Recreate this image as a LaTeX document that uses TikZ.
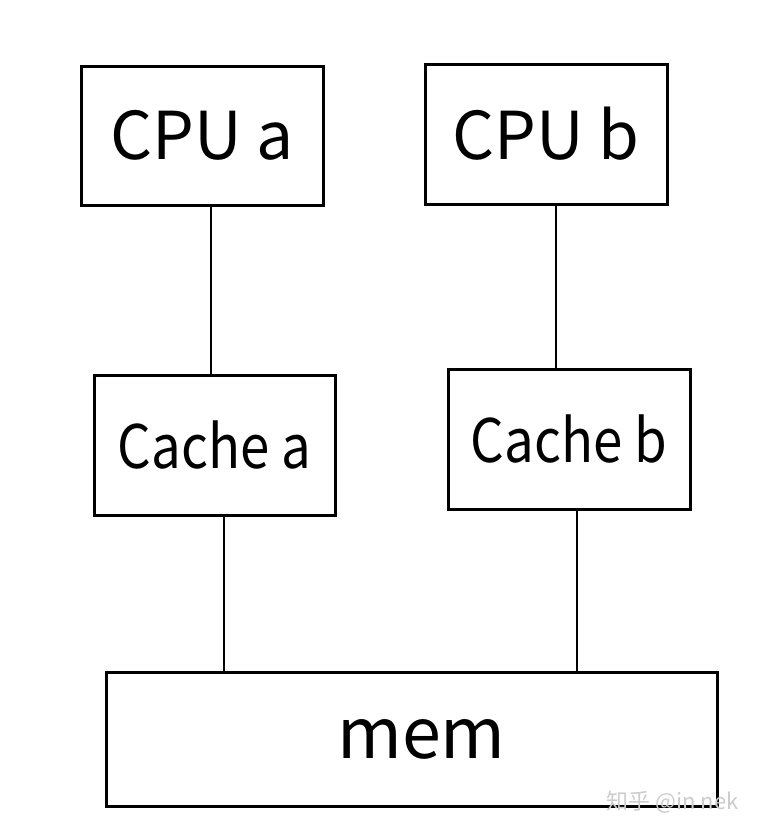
\documentclass[tikz,border=0pt]{standalone}
\usepackage{fontspec}
\setmainfont{Noto Sans CJK SC}
\begin{document}
\begin{tikzpicture}[x=1pt, y=-1pt,
    box/.style={draw, line width=3pt, inner sep=0pt},
    link/.style={line width=2pt}]
  \useasboundingbox (0,0) rectangle (760,836);
  % processors
  \node[box, minimum width=242pt, minimum height=139pt, font=\fontsize{66}{70}\selectfont] (cpua) at (202,135.5) {CPU a};
  \node[box, minimum width=242pt, minimum height=140pt, font=\fontsize{66}{70}\selectfont] (cpub) at (546,134) {CPU b};
  % caches
  \tikzset{cachefont/.style={font=\fontsize{60}{60}\selectfont\addfontfeatures{FakeStretch=0.88}}}
  \node[box, cachefont, minimum width=241pt, minimum height=140pt] (cachea) at (214.5,445) {Cache a};
  \node[box, cachefont, minimum width=242pt, minimum height=140pt] (cacheb) at (569,439) {Cache b};
  % memory
  \node[box, minimum width=611pt, minimum height=134pt, font=\fontsize{70}{74}\selectfont] (mem) at (411.5,739) {\hspace{20pt}mem};
  % links
  \draw[link] ([xshift=9pt]cpua.south) -- ([xshift=9pt]cpua.south |- cachea.north);
  \draw[link] ([xshift=10pt]cpub.south) -- ([xshift=10pt]cpub.south |- cacheb.north);
  \draw[link] ([xshift=9.5pt]cachea.south) -- ([xshift=9.5pt]cachea.south |- mem.north);
  \draw[link] ([xshift=8pt]cacheb.south) -- ([xshift=8pt]cacheb.south |- mem.north);
  % watermark
  \node[gray!40, font=\fontsize{22}{24}\selectfont, anchor=west] (mark) at (603,802) {知乎 @in nek};
\end{tikzpicture}
\end{document}
